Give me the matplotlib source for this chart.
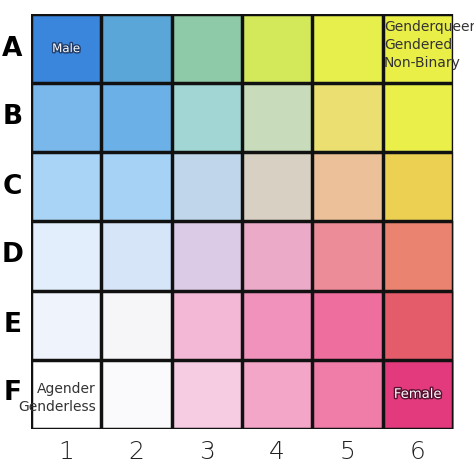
import numpy as np
import matplotlib
matplotlib.use('Agg')
import matplotlib.pyplot as plt
import matplotlib.colors as mcolors
import matplotlib.patheffects as pe

row_labels = ['A', 'B', 'C', 'D', 'E', 'F']
col_labels = ['1', '2', '3', '4', '5', '6']

# cell colours, one row per letter
row_a = ['#3a86dc', '#5ba6d8', '#8ec9a8', '#d4e95a', '#e6ef4c', '#eaef48']
row_b = ['#7ab8ec', '#6cb0e8', '#a2d6d4', '#c8dcbc', '#eadf70', '#eaef4a']
row_c = ['#a9d4f5', '#a6d2f5', '#c0d6ea', '#d8d0c2', '#ecc098', '#ecd052']
row_d = ['#e2eefb', '#d6e6f8', '#dccbe6', '#eaaac8', '#ec8c98', '#ea8470']
row_e = ['#eef3fc', '#f6f6f9', '#f2b8d6', '#f092bc', '#ee6e9e', '#e45c6a']
row_f = ['#ffffff', '#fafafc', '#f6cce2', '#f4a6c8', '#f07ca8', '#e23a7c']
grid_colors = [row_a, row_b, row_c, row_d, row_e, row_f]

corner_male = 'Male'
corner_female = 'Female'
corner_nb = 'Genderqueer\nGendered\nNon-Binary'
corner_agender = 'Agender\nGenderless'

fig = plt.figure(figsize=(4.74, 4.67), dpi=100)
ax = fig.add_axes([0.0654, 0.0814, 0.8903, 0.8886])

img = np.array([[mcolors.to_rgb(c) for c in row] for row in grid_colors])
ax.imshow(img, extent=[0, 6, 6, 0], aspect='auto', interpolation='nearest')

for i in range(7):
    ax.axhline(i, color='#111111', lw=2.5, zorder=3)
    ax.axvline(i, color='#111111', lw=2.5, zorder=3)

ax.set_xlim(0, 6)
ax.set_ylim(6, 0)
for s in ax.spines.values():
    s.set_visible(False)
ax.set_xticks([])
ax.set_yticks([])

for i, lab in enumerate(row_labels):
    fig.text(0.026, 1 - (14 + 69 * (i + 0.5)) / 467, lab, fontsize=19,
             fontweight='bold', ha='center', va='center')
for j, lab in enumerate(col_labels):
    ax.text(j + 0.5, 6.33, lab, fontsize=18, ha='center', va='center',
            color='#222222', fontweight='light', clip_on=False)

ax.text(0.5, 0.5, corner_male, fontsize=8.5, ha='center', va='center',
        color='white', zorder=4,
        path_effects=[pe.withStroke(linewidth=2, foreground='#1f3c6a')])
ax.text(5.5, 5.5, corner_female, fontsize=9.5, ha='center', va='center',
        color='white', zorder=4,
        path_effects=[pe.withStroke(linewidth=2, foreground='#5a1030')])
ax.text(5.02, 0.08, corner_nb, fontsize=10, ha='left', va='top',
        color='#333333', linespacing=1.4, zorder=4, clip_on=False)
ax.text(0.92, 5.55, corner_agender, fontsize=10, ha='right', va='center',
        color='#333333', linespacing=1.3, zorder=4, clip_on=False,
        multialignment='right')

fig.savefig('out.png', dpi=100, facecolor='white')
